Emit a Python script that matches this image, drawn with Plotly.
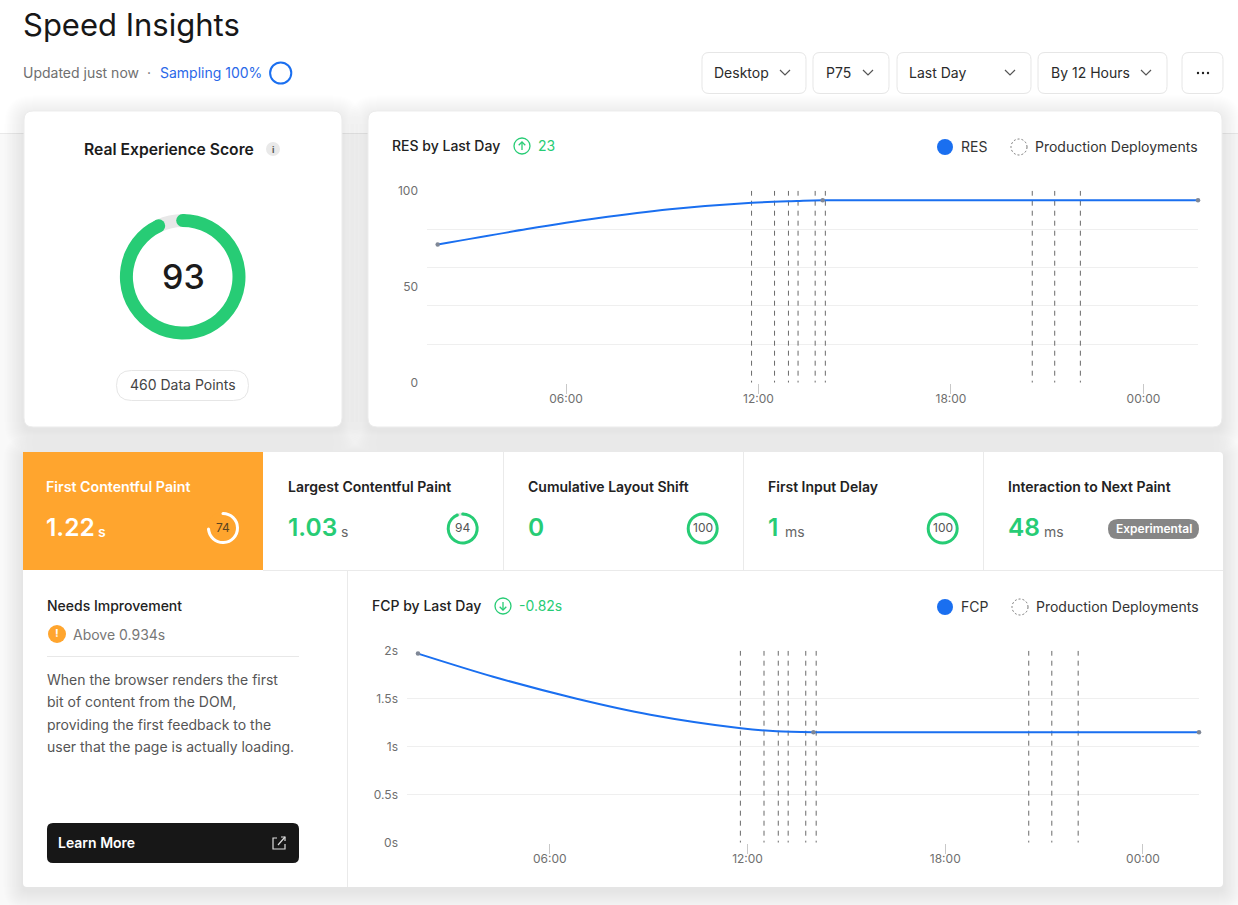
import math
import plotly.graph_objects as go

W, H = 1238, 905
FONT = "Inter"

# ---------- data ----------
res_times = ["2023-06-01 02:00", "2023-06-01 04:47", "2023-06-01 06:58", "2023-06-01 09:14",
             "2023-06-01 11:48", "2023-06-01 13:12", "2023-06-01 14:00", "2023-06-02 01:42"]
res_values = [72, 80, 85.6, 90.3, 93.75, 94.6, 95, 95]
fcp_times = ["2023-06-01 02:00", "2023-06-01 04:17", "2023-06-01 06:49", "2023-06-01 09:03",
             "2023-06-01 11:48", "2023-06-01 12:53", "2023-06-01 14:00", "2023-06-02 01:42"]
fcp_values = [1.97, 1.729, 1.5, 1.333, 1.192, 1.16, 1.15, 1.15]
dot_times = ["2023-06-01 02:00", "2023-06-01 14:00", "2023-06-02 01:42"]
res_dots = [72, 95, 95]
fcp_dots = [1.97, 1.15, 1.15]
deployments = ["2023-06-01 11:47", "2023-06-01 12:30", "2023-06-01 12:56", "2023-06-01 13:14",
               "2023-06-01 13:46", "2023-06-01 14:05", "2023-06-01 20:32", "2023-06-01 21:14",
               "2023-06-01 22:02"]
x_ticks = ["2023-06-01 06:00", "2023-06-01 12:00", "2023-06-01 18:00", "2023-06-02 00:00"]
x_labels = ["06:00", "12:00", "18:00", "00:00"]
x_range = ["2023-06-01 01:40", "2023-06-02 01:42"]
res_ticks = [0, 50, 100]
res_labels = ["0", "50", "100"]
res_grid = [0, 20, 40, 60, 80, 100]
fcp_ticks = [0, 0.5, 1, 1.5, 2]
fcp_labels = ["0s", "0.5s", "1s", "1.5s", "2s"]
score_main = 93
score_fcp = 74
score_lcp = 94
score_cls = 100
score_fid = 100
sampling = 100

BLUE = "#1a6ff0"
GREEN = "#27cc75"
ORANGE = "#ffa52e"
BORDER = "#e8e8e8"

X = lambda x: x / W
Y = lambda y: 1 - y / H
shapes, notes = [], []


def rr_path(x0, y0, x1, y1, r):
    p = [("M", x0 + r, y0), ("L", x1 - r, y0), ("Q", x1, y0, x1, y0 + r), ("L", x1, y1 - r),
         ("Q", x1, y1, x1 - r, y1), ("L", x0 + r, y1), ("Q", x0, y1, x0, y1 - r),
         ("L", x0, y0 + r), ("Q", x0, y0, x0 + r, y0)]
    out = []
    for s in p:
        pts = s[1:]
        out.append(s[0] + " ".join(f"{X(pts[i]):.5f},{Y(pts[i + 1]):.5f}" for i in range(0, len(pts), 2)))
    return " ".join(out) + " Z"


def rrect(x0, y0, x1, y1, r, fill="white", line=None, lw=1, layer="below"):
    shapes.append(dict(type="path", path=rr_path(x0, y0, x1, y1, r), xref="paper", yref="paper",
                       fillcolor=fill, line=dict(color=line or "rgba(0,0,0,0)", width=lw if line else 0),
                       layer=layer))


def rect(x0, y0, x1, y1, fill, layer="below"):
    shapes.append(dict(type="rect", x0=X(x0), x1=X(x1), y0=Y(y0), y1=Y(y1), xref="paper", yref="paper",
                       fillcolor=fill, line=dict(width=0), layer=layer))


def seg(points, color, width=1.5, layer="above"):
    d = "M" + " L".join(f"{X(a):.5f},{Y(b):.5f}" for a, b in points)
    shapes.append(dict(type="path", path=d, xref="paper", yref="paper",
                       line=dict(color=color, width=width), layer=layer))


def circle(cx, cy, r, fill="rgba(0,0,0,0)", line=None, lw=1, dash=None, layer="above"):
    ln = dict(color=line or "rgba(0,0,0,0)", width=lw if line else 0)
    if dash:
        ln["dash"] = dash
    shapes.append(dict(type="circle", x0=X(cx - r), x1=X(cx + r), y0=Y(cy + r), y1=Y(cy - r),
                       xref="paper", yref="paper", fillcolor=fill, line=ln, layer=layer))


def text(x, y, s, size=14, color="#222", weight=400, anchor="left"):
    if y > 300:
        y -= 0.6
    notes.append(dict(x=X(x), y=Y(y), xref="paper", yref="paper", text=s, showarrow=False,
                      xanchor=anchor, yanchor="middle", borderpad=0, borderwidth=0,
                      font=dict(family=FONT, size=size, color=color, weight=weight)))


def shadow(x0, y0, x1, y1, r):
    for i in range(20, 0, -1):
        rrect(x0 - i, y0 - i + 4, x1 + i, y1 + i + 4, r + i, fill="rgba(0,0,0,0.0028)")


def chevron(cx, cy):
    seg([(cx - 5, cy - 2.5), (cx, cy + 2.5), (cx + 5, cy - 2.5)], "#555", 1.2)


def arrow_icon(cx, cy, up):
    circle(cx, cy, 8, line=GREEN, lw=1.3)
    s = -1 if up else 1
    seg([(cx, cy - s * 4), (cx, cy + s * 4)], GREEN, 1.3)
    seg([(cx - 3.3, cy + s * 0.7), (cx, cy + s * 4), (cx + 3.3, cy + s * 0.7)], GREEN, 1.3)


# ---------- page ----------
rect(0, 133, W, H, "#f9f9f9")
rect(0, 133, W, 134, "#e9e9e9")
shadow(24, 111, 342, 427, 9)
shadow(368, 111, 1222, 427, 9)
shadow(23, 452, 1223, 887, 4)
rrect(24, 111, 342, 427, 9, line="#ececec")
rrect(368, 111, 1222, 427, 9, line="#ececec")
rrect(23, 452, 1223, 887, 4)
rect(23, 452, 263, 570, ORANGE)
for vx in (503, 743, 983):
    rect(vx, 452, vx + 1, 570, "#eaeaea")
rect(263, 570, 1223, 571, "#eaeaea")
rect(347, 571, 348, 887, "#eaeaea")
rect(47, 656, 299, 657, "#e8e8e8")
rrect(47, 823, 299, 863, 6, fill="#171717")

# header
text(23, 24.3, "Speed Insights", 31, "#171717", 400)
text(23, 73, "Updated just now", 14, "#6f6f6f")
text(149, 73, "·", 14, "#6f6f6f", anchor="center")
text(159.5, 73, "Sampling 100%", 14, "#2a68e8")
for x0, x1, lab, tx, chev in [(702, 806, "Desktop", 714, 785), (813, 889, "P75", 826, 868),
                              (897, 1031, "Last Day", 909, 1010), (1038, 1167, "By 12 Hours", 1051, 1146)]:
    rrect(x0, 52.5, x1, 93.5, 7, line="#e6e6e6")
    text(tx, 73, lab, 14, "#2b2b2b")
    chevron(chev, 72.5)
rrect(1182, 52.5, 1223, 93.5, 7, line="#e6e6e6")
for dx in (1198, 1203, 1208):
    circle(dx, 73, 1.2, fill="#222")

# score card
text(168.5, 149, "Real Experience Score", 15.7, "#1c1c1c", 600, "center")
circle(273, 149, 7, fill="#e9e9e9")
text(273, 149, "i", 9, "#555", 700, "center")
text(183, 276.3, str(score_main), 34, "#1b1b1b", 500, "center")
rrect(116.5, 370.5, 248.5, 400.5, 15, line="#e6e6e6")
text(182.5, 385, "460 Data Points", 14, "#444", 400, "center")

# RES card
text(392, 146, "RES by Last Day", 14, "#222", 500)
arrow_icon(522, 146, True)
text(538, 146, "23", 14, GREEN)
circle(945, 147, 8, fill=BLUE)
text(961, 147, "RES", 14, "#333")
circle(1019, 147, 8, line="#777", lw=1, dash="2px,2px")
text(1035, 147, "Production Deployments", 14, "#333")

# metric tiles
text(46, 487, "First Contentful Paint", 14.2, "white", 600)
text(46, 528, "1.22", 24.5, "white", 600)
text(98, 532, "s", 14, "white", 600)
text(222.5, 528, str(score_fcp), 12, "#5a4420", 400, "center")
text(288, 487, "Largest Contentful Paint", 14, "#222", 600)
text(288, 528, "1.03", 24.5, GREEN, 600)
text(341, 532, "s", 14, "#666")
text(462.5, 528, str(score_lcp), 12, "#555", 400, "center")
text(528, 487, "Cumulative Layout Shift", 14, "#222", 600)
text(528, 528, "0", 24.5, GREEN, 600)
text(702.5, 528, str(score_cls), 12, "#555", 400, "center")
text(768, 487, "First Input Delay", 14, "#222", 600)
text(768, 528, "1", 24.5, GREEN, 600)
text(785, 532, "ms", 14, "#666")
text(942.5, 528, str(score_fid), 12, "#555", 400, "center")
text(1008, 487, "Interaction to Next Paint", 14, "#222", 600)
text(1008, 528, "48", 24.5, GREEN, 600)
text(1044, 532, "ms", 14, "#666")
rrect(1108, 519, 1199, 539, 10, fill="#868686")
text(1153.5, 529, "Experimental", 12, "white", 600, "center")

# description panel
text(46.7, 606, "Needs Improvement", 14, "#222", 500)
circle(57, 634, 9, fill=ORANGE)
text(57, 634, "!", 11, "white", 700, "center")
text(73, 635, "Above 0.934s", 14, "#777")
desc = ["When the browser renders the first", "bit of content from the DOM,",
        "providing the first feedback to the", "user that the page is actually loading."]
for i, line in enumerate(desc):
    text(46.7, [680, 702.5, 725, 747][i], line, 14, "#555")
text(58, 843, "Learn More", 14, "white", 600)
seg([(277, 838), (273, 838), (273, 849), (285, 849), (285, 844)], "#ddd", 1.2)
seg([(278, 845), (285, 837)], "#ddd", 1.2)
seg([(281, 837), (285, 837), (285, 841)], "#ddd", 1.2)

# FCP card
text(372, 606, "FCP by Last Day", 14, "#222", 500)
arrow_icon(503, 606, False)
text(519, 606, "-0.82s", 14, GREEN)
circle(945, 607, 8, fill=BLUE)
text(961, 607, "FCP", 14, "#333")
circle(1020, 607, 8, line="#777", lw=1, dash="2px,2px")
text(1036, 607, "Production Deployments", 14, "#333")

fig = go.Figure()


def line_chart(xa, ya, times, vals, dots, top):
    xs, ys = [], []
    for d in deployments:
        xs += [d, d, None]
        ys += [top, 0, None]
    fig.add_trace(go.Scatter(x=xs, y=ys, mode="lines", xaxis=xa, yaxis=ya, hoverinfo="skip",
                             line=dict(color="#6a6a6a", width=1, dash="5px,5px")))
    fig.add_trace(go.Scatter(x=times, y=vals, mode="lines", xaxis=xa, yaxis=ya, cliponaxis=False,
                             line=dict(color=BLUE, width=2, shape="spline", smoothing=0.8)))
    fig.add_trace(go.Scatter(x=dot_times, y=dots, mode="markers", xaxis=xa, yaxis=ya, cliponaxis=False,
                             marker=dict(color="#7f8796", size=4.5)))


line_chart("x", "y", res_times, res_values, res_dots, 100)
line_chart("x2", "y2", fcp_times, fcp_values, fcp_dots, 2)


def gauge(value, cx, cy, r, width, color, track):
    hole = (r - width) / r
    rem = max(100 - value, 0)
    fig.add_trace(go.Pie(values=[value, rem], sort=False, direction="clockwise", rotation=0, hole=hole,
                         textinfo="none", hoverinfo="skip", showlegend=False,
                         marker=dict(colors=[color, track], line=dict(width=0)),
                         domain=dict(x=[X(cx - r), X(cx + r)], y=[Y(cy + r), Y(cy - r)])))
    if value < 100:
        mid = r - width / 2
        for a in (0, value * 3.6):
            t = math.radians(a)
            circle(cx + mid * math.sin(t), cy - mid * math.cos(t), width / 2, fill=color)


gauge(score_main, 182.7, 276.8, 62.8, 13, GREEN, "#e8e8e8")
gauge(score_fcp, 223, 528, 16, 3, "white", ORANGE)
gauge(score_lcp, 462.7, 528.5, 16, 3, GREEN, "#e8e8e8")
gauge(score_cls, 702.7, 528.5, 16, 3, GREEN, "#e8e8e8")
gauge(score_fid, 942.7, 528.5, 16, 3, GREEN, "#e8e8e8")
gauge(sampling, 280.7, 73, 11.6, 2, BLUE, "#e8e8e8")

ax_font = dict(family=FONT, size=12, color="#6f6f6f")
xcommon = dict(type="date", range=x_range, tickmode="array", tickvals=x_ticks, ticktext=x_labels,
               ticks="outside", ticklen=10, tickcolor="#c8c8c8", tickwidth=1, showgrid=False,
               showline=False, zeroline=False, tickfont=ax_font, ticklabelstandoff=-5)
ycommon = dict(tickmode="array", gridcolor="#efefef", gridwidth=1.4, zeroline=False,
               showline=False, ticks="", tickfont=ax_font, ticklabelstandoff=8)

fig.update_layout(
    width=W, height=H, margin=dict(l=0, r=0, t=0, b=0, autoexpand=False),
    paper_bgcolor="white", plot_bgcolor="rgba(0,0,0,0)", showlegend=False,
    font=dict(family=FONT), shapes=shapes, annotations=notes,
    xaxis=dict(domain=[X(427), X(1198)], anchor="y", **xcommon),
    yaxis=dict(domain=[Y(382.7), Y(190.7)], anchor="x", range=[0, 100],
               tickvals=res_ticks, ticktext=res_labels, showgrid=False,
               minor=dict(tickmode="array", tickvals=res_grid, showgrid=True, ticks="",
                          gridcolor="#efefef", gridwidth=1.4),
               **ycommon),
    xaxis2=dict(domain=[X(407), X(1199)], anchor="y2", **xcommon),
    yaxis2=dict(domain=[Y(842.7), Y(650.7)], anchor="x2", range=[0, 2],
                tickvals=fcp_ticks, ticktext=fcp_labels, showgrid=True, **ycommon),
)

fig.write_html("out.html", config={"displayModeBar": False},
               post_script="document.body.style.margin='0';document.body.style.overflow='hidden';")
